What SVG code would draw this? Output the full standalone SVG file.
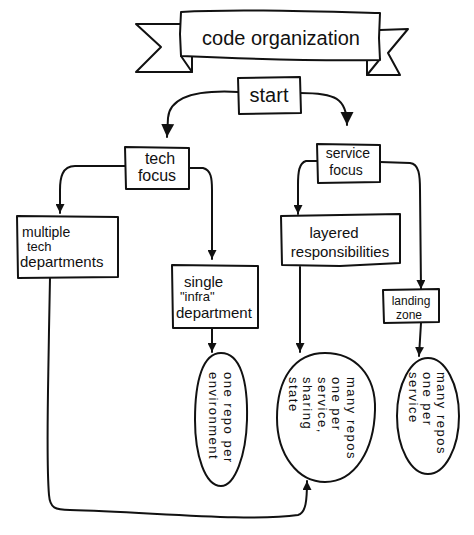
<svg xmlns="http://www.w3.org/2000/svg" width="474" height="535" viewBox="0 0 474 535">
<style>
.ln{fill:none;stroke:#111;stroke-width:2;stroke-linecap:round;stroke-linejoin:round}
.bx{fill:#fff;stroke:#111;stroke-width:2;stroke-linejoin:round}
.t{font-family:"Liberation Sans",Arial,sans-serif;fill:#111}
.c{text-anchor:middle}
.r{font-size:13px;letter-spacing:1.5px}
</style>
<defs>
<marker id="a" viewBox="0 0 10 10" refX="10" refY="5" markerWidth="9" markerHeight="9" markerUnits="userSpaceOnUse" orient="auto">
<path d="M0,0 L10,5 L0,10 Z" fill="#111"/>
</marker>
<marker id="ab" viewBox="0 0 10 10" refX="10" refY="5" markerWidth="13" markerHeight="15" markerUnits="userSpaceOnUse" orient="auto">
<path d="M0,0 L10,5 L0,10 Z" fill="#111"/>
</marker>
</defs>

<g id="title">
<path class="bx" d="M181,24 L136,24 L161,47 L136,72 L192,72 L192,56"/>
<path class="ln" d="M181,56 L192,72"/>
<path class="bx" d="M380,30 L408,29 L388,53 L400,75 L367,75 L367,59"/>
<path class="ln" d="M380,59 L367,75"/>
<path class="bx" d="M181,12 C230,9 300,11 380,13 L379,38 L380,60 C320,61 250,59 181,56 L180,34 Z"/>
<text class="t c" x="281" y="45" font-size="20">code organization</text>
</g>

<g id="connectors">
<path class="ln" marker-end="url(#ab)" d="M238,92 C200,90 170,95 168,118 L167,137"/>
<path class="ln" marker-end="url(#ab)" d="M300,93 C335,93 347,98 347,125"/>
<path class="ln" marker-end="url(#a)" d="M125,166 L75,166 C62,166 60,178 60,190 L60,213"/>
<path class="ln" marker-end="url(#a)" d="M189,168 L203,168 C211,170 212,178 212,190 L212,259"/>
<path class="ln" marker-end="url(#a)" d="M317,161 L306,161 C299,163 298,172 298,185 L298,214"/>
<path class="ln" marker-end="url(#a)" d="M380,162 L410,163 C419,164 420,175 420,190 L421,289"/>
<path class="ln" marker-end="url(#a)" d="M212,328 L212,352"/>
<path class="ln" marker-end="url(#a)" d="M300,267 L300,352"/>
<path class="ln" marker-end="url(#a)" d="M421,323 L419,356"/>
<path class="ln" marker-end="url(#a)" d="M50,278 L49,330 C48,400 46,460 49,495 C50,508 55,510 70,510 C150,512 250,522 298,515 C306,513 307,500 307,481"/>
</g>

<g id="start">
<path class="bx" d="M238,78 L300,77 L301,113 L239,114 Z"/>
<text class="t c" x="269" y="102" font-size="20">start</text>
</g>

<g id="tech-focus">
<path class="bx" d="M125,147 L189,148 L189,189 L126,189 Z"/>
<text class="t c" x="160" y="164" font-size="16">tech</text>
<text class="t c" x="157" y="181" font-size="16">focus</text>
</g>

<g id="service-focus">
<path class="bx" d="M317,144 L380,145 L380,182 L318,183 Z"/>
<text class="t c" x="348" y="158" font-size="14">service</text>
<text class="t c" x="346" y="175" font-size="14">focus</text>
</g>

<g id="multiple-tech">
<path class="bx" d="M17,216 L118,217 L118,277 L18,278 Z"/>
<text class="t" x="22" y="237" font-size="14">multiple</text>
<text class="t" x="27" y="251" font-size="13">tech</text>
<text class="t" x="20" y="267" font-size="15">departments</text>
</g>

<g id="single-infra">
<path class="bx" d="M172,265 L258,266 L258,328 L173,328 Z"/>
<text class="t" x="184" y="287" font-size="15">single</text>
<text class="t" x="180" y="301" font-size="13">"infra"</text>
<text class="t" x="176" y="318" font-size="15">department</text>
</g>

<g id="layered">
<path class="bx" d="M281,216 L400,214 L400,263 L340,266 L282,265 Z"/>
<text class="t c" x="334" y="238" font-size="15">layered</text>
<text class="t c" x="340" y="257" font-size="15">responsibilities</text>
</g>

<g id="landing-zone">
<path class="bx" d="M383,290 L439,289 L439,322 L384,323 Z"/>
<text class="t c" x="411" y="305" font-size="12">landing</text>
<text class="t c" x="409" y="319" font-size="12">zone</text>
</g>

<g id="one-repo-per-env">
<path class="bx" d="M221,353 C240,353 248,380 247,420 C246,455 235,486 221,486 C205,486 195,455 195,420 C195,380 203,353 221,353 Z"/>
<text class="t r" transform="translate(224,372) rotate(90)"><tspan x="0" y="0">one repo per</tspan><tspan x="0" dy="15">environment</tspan></text>
</g>

<g id="many-repos-sharing">
<path class="bx" d="M325,353 C355,353 376,375 375,410 C374,450 355,482 325,482 C298,482 277,455 277,418 C277,378 295,353 325,353 Z"/>
<text class="t r" transform="translate(346.5,377) rotate(90)"><tspan x="0" y="0">many repos</tspan><tspan x="0" dy="14.5">one per</tspan><tspan x="0" dy="14.5">service,</tspan><tspan x="0" dy="14.5">sharing</tspan><tspan x="0" dy="14.5">state</tspan></text>
</g>

<g id="many-repos">
<ellipse class="bx" cx="428" cy="416" rx="31" ry="58"/>
<text class="t r" transform="translate(437,372) rotate(90)"><tspan x="0" y="0">many repos</tspan><tspan x="0" dy="14">one per</tspan><tspan x="0" dy="14">service</tspan></text>
</g>
</svg>
